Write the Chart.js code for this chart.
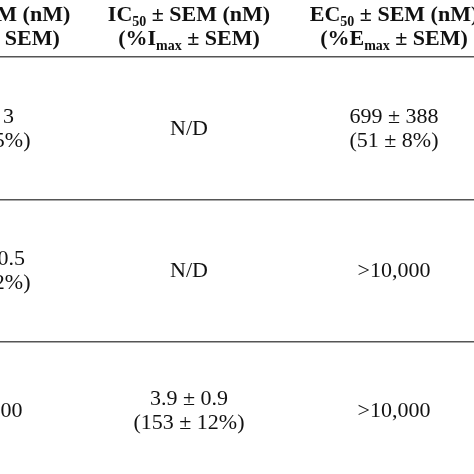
<!DOCTYPE html>
<html><head><meta charset="utf-8">
<script src="https://cdn.jsdelivr.net/npm/chart.js@4"></script>
<style>
html,body{margin:0;padding:0;background:#fff;width:474px;height:474px;overflow:hidden}
#wrap{position:relative;width:474px;height:474px}
canvas{position:absolute;left:0;top:0}
.t{position:absolute;transform:translate(-50%,-50%);white-space:nowrap;font-family:"Liberation Serif","DejaVu Serif",serif;font-size:22px;color:#111;line-height:1}
.h{font-weight:bold}
sub{font-size:14px;vertical-align:-5px;line-height:0}
</style></head><body>
<div id="wrap"><canvas id="c" width="474" height="474"></canvas></div>
<script>
const headers1=['EC<sub>50</sub> ± SEM (nM)','IC<sub>50</sub> ± SEM (nM)','EC<sub>50</sub> ± SEM (nM)'];
const headers2=['(%E<sub>max</sub> ± SEM)','(%I<sub>max</sub> ± SEM)','(%E<sub>max</sub> ± SEM)'];
const rows=[
 [['14 ± 3','(88 ± 5%)'],['N/D'],['699 ± 388','(51 ± 8%)']],
 [['2.1 ± 0.5','(93 ± 2%)'],['N/D'],['>10,000']],
 [['>10,000'],['3.9 ± 0.9','(153 ± 12%)'],['>10,000']]
];
const colX=[-14,189,394];
const headY=[14,38];
const rowY=[128,270,410];
const sepY=[57,200,342];
const lineGap=24;
new Chart(document.getElementById('c'),{type:'scatter',data:{datasets:[{data:[]}]},
 options:{responsive:false,animation:false,events:[],layout:{padding:0},
 plugins:{legend:{display:false},tooltip:{enabled:false}},
 scales:{x:{display:false,min:0,max:474},
  y:{min:0,max:474,reverse:true,border:{display:false},
   ticks:{display:false},afterBuildTicks:a=>{a.ticks=sepY.map(v=>({value:v}));},
   grid:{color:'#555',lineWidth:1.5,drawTicks:false}, afterFit:s=>{s.width=0;}}}}});
const wrap=document.getElementById('wrap');
function put(html,x,y,cls){const d=document.createElement('div');d.className='t '+(cls||'');d.innerHTML=html;d.style.left=x+'px';d.style.top=y+'px';wrap.appendChild(d);}
colX.forEach((x,i)=>{put(headers1[i],x,headY[0],'h');put(headers2[i],x,headY[1],'h');});
rows.forEach((r,ri)=>r.forEach((cell,ci)=>{
 const n=cell.length;cell.forEach((s,k)=>put(s.replace(/>/g,'&gt;'),colX[ci],rowY[ri]+(k-(n-1)/2)*lineGap));
}));
</script></body></html>
